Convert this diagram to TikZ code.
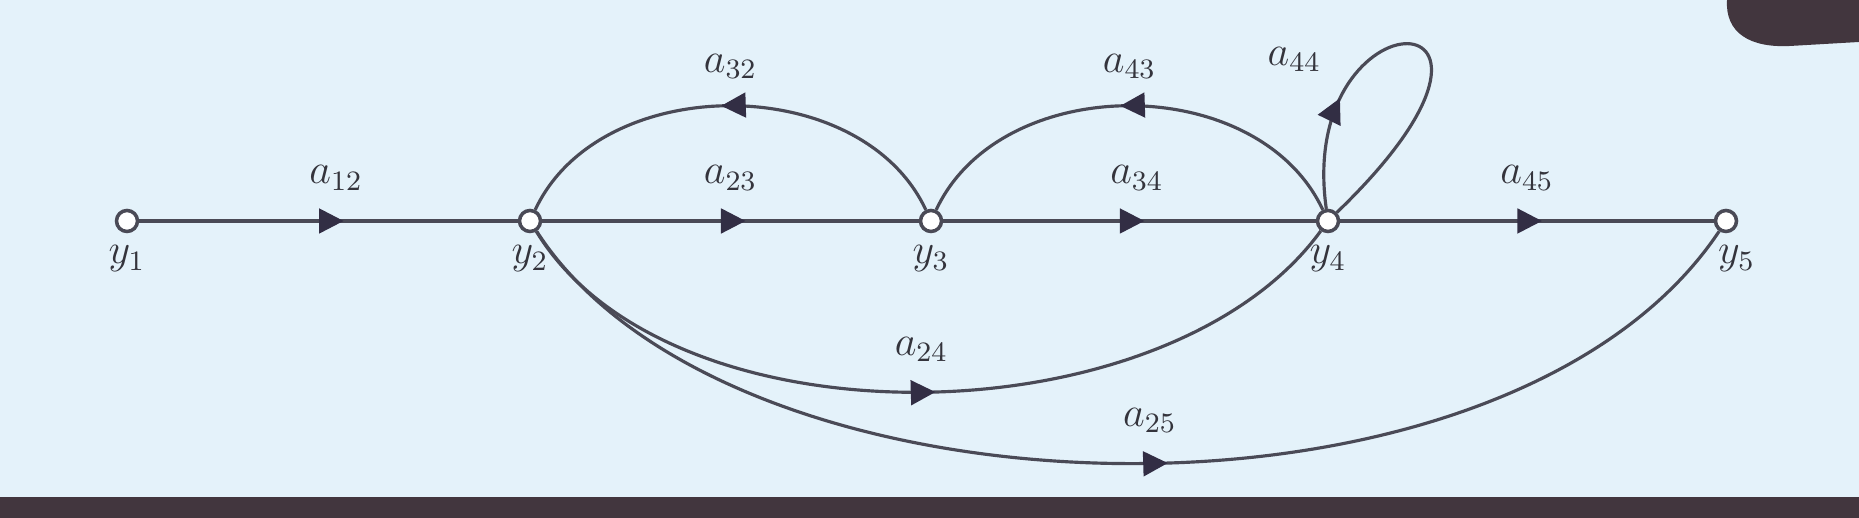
\documentclass[tikz,border=0pt]{standalone}
\usepackage{amsmath,amssymb}
\usepackage{tikz}
\usetikzlibrary{arrows.meta, decorations.markings}
\definecolor{paper}{RGB}{228,242,250}
\definecolor{ink}{RGB}{74,74,86}
\definecolor{tipink}{RGB}{50,46,68}
\definecolor{frame}{RGB}{66,54,62}

\begin{document}
\begin{tikzpicture}[
	state/.style={draw=ink, circle, line width=1pt, fill=white, inner sep=0pt, minimum size=0.21cm},
	gain/.style={font=\large, text=ink!70!black},
	flow/.style={draw=ink, line width=0.9pt,
		decoration={markings, mark=at position #1 with {\arrow[tipink]{Triangle[length=7pt,width=7pt]}}},
		postaction={decorate}},
	]
	\useasboundingbox (0,0) rectangle (18.59,5.18);
	\fill[paper] (0,0) rectangle (18.59,5.18);
	\fill[frame] (0,0) rectangle (18.59,0.21);
	\fill[frame] (17.27,5.18) .. controls (17.25,4.85) and (17.5,4.70) .. (17.9,4.72) -- (18.59,4.76) -- (18.59,5.18) -- cycle;
	
	\node[state, label={[gain]below:$y_1$}] (y1) at (1.27,2.97) {};
	\node[state, label={[gain]below:$y_2$}] (y2) at (5.30,2.97) {};
	\node[state, label={[gain]below:$y_3$}] (y3) at (9.31,2.97) {};
	\node[state, label={[gain]below:$y_4$}] (y4) at (13.28,2.97) {};
	\node[state, label={[gain, xshift=3pt]below:$y_5$}] (y5) at (17.26,2.97) {};
	
	\draw[flow=0.54] (y1) -- node[gain, above=5pt, pos=0.52] {$a_{12}$} (y2);
	\draw[flow=0.54] (y2) -- node[gain, above=5pt, pos=0.5] {$a_{23}$} (y3);
	\draw[flow=0.54] (y3) -- node[gain, above=5pt, pos=0.52] {$a_{34}$} (y4);
	\draw[flow=0.54] (y4) -- node[gain, above=5pt, pos=0.5] {$a_{45}$} (y5);
	
	\draw[flow=0.52] (y3) .. controls +(-0.7,1.5) and +(0.7,1.5) .. node[gain, above=4pt, pos=0.5] {$a_{32}$} (y2);
	\draw[flow=0.52] (y4) .. controls +(-0.7,1.5) and +(0.7,1.5) .. node[gain, above=4pt, pos=0.5] {$a_{43}$} (y3);
	\draw[flow=0.27] (y4) .. controls (12.95,5.3) and (15.7,5.3) .. node[gain, pos=0.3, left=7pt, yshift=3pt] {$a_{44}$} (y4);
	
	\draw[flow=0.51] (y2) .. controls +(1.4,-2.3) and +(-1.6,-2.2) .. node[gain, above=5pt, pos=0.5] {$a_{24}$} (y4);
	\draw[flow=0.53] (y2) .. controls +(2.0,-3.1) and +(-2.2,-3.3) .. node[gain, above=5pt, pos=0.52] {$a_{25}$} (y5);
\end{tikzpicture}
\end{document}
